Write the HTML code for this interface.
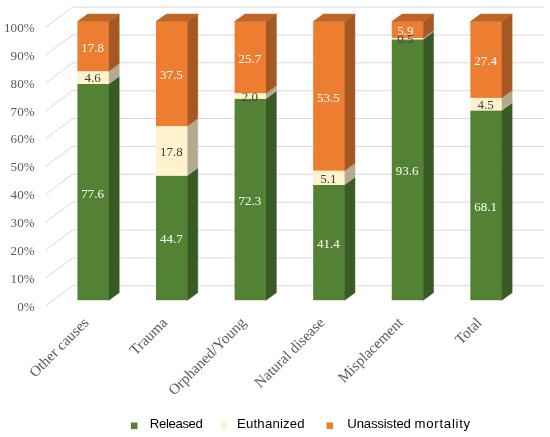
<!DOCTYPE html>
<html><head><meta charset="utf-8"><title>Chart</title><style>html,body{margin:0;padding:0;background:#fff}svg{display:block}</style></head><body>
<svg width="550" height="437" viewBox="0 0 550 437">
<rect width="550" height="437" fill="#fff"/>
<g stroke="#D9D9D9" stroke-width="1" fill="none">
<polyline points="45.50,306.00 72.50,285.80 544.00,285.80"/>
<polyline points="45.50,278.13 72.50,257.93 544.00,257.93"/>
<polyline points="45.50,250.26 72.50,230.06 544.00,230.06"/>
<polyline points="45.50,222.39 72.50,202.19 544.00,202.19"/>
<polyline points="45.50,194.52 72.50,174.32 544.00,174.32"/>
<polyline points="45.50,166.65 72.50,146.45 544.00,146.45"/>
<polyline points="45.50,138.78 72.50,118.58 544.00,118.58"/>
<polyline points="45.50,110.91 72.50,90.71 544.00,90.71"/>
<polyline points="45.50,83.04 72.50,62.84 544.00,62.84"/>
<polyline points="45.50,55.17 72.50,34.97 544.00,34.97"/>
<polyline points="45.50,27.30 72.50,7.10 544.00,7.10"/>
</g>
<g font-family="'Liberation Serif', serif" font-size="13.1" fill="#595959" text-anchor="end">
<text x="34.6" y="310.60">0%</text>
<text x="34.6" y="282.73">10%</text>
<text x="34.6" y="254.86">20%</text>
<text x="34.6" y="226.99">30%</text>
<text x="34.6" y="199.12">40%</text>
<text x="34.6" y="171.25">50%</text>
<text x="34.6" y="143.38">60%</text>
<text x="34.6" y="115.51">70%</text>
<text x="34.6" y="87.64">80%</text>
<text x="34.6" y="59.77">90%</text>
<text x="34.6" y="31.90">100%</text>
</g>
<polygon fill="#3A5A25" stroke="#3A5A25" stroke-width="0.5" stroke-linejoin="round" points="108.86,300.20 119.21,292.70 119.21,76.43 108.86,83.93"/>
<rect fill="#3A5A25" x="107.86" y="83.93" width="1.2" height="216.27"/>
<rect fill="#548235" x="77.43" y="83.93" width="31.43" height="216.27"/>
<polygon fill="#B3AA8F" stroke="#B3AA8F" stroke-width="0.5" stroke-linejoin="round" points="108.86,83.93 119.21,76.43 119.21,63.61 108.86,71.11"/>
<rect fill="#B3AA8F" x="107.86" y="71.11" width="1.2" height="12.82"/>
<rect fill="#FFF2CC" x="77.43" y="71.11" width="31.43" height="12.82"/>
<polygon fill="#A65822" stroke="#A65822" stroke-width="0.5" stroke-linejoin="round" points="108.86,71.11 119.21,63.61 119.21,14.00 108.86,21.50"/>
<rect fill="#A65822" x="107.86" y="21.50" width="1.2" height="49.61"/>
<rect fill="#ED7D31" x="77.43" y="21.50" width="31.43" height="49.61"/>
<polygon fill="#BE6427" stroke="#BE6427" stroke-width="0.5" stroke-linejoin="round" points="77.43,21.50 108.86,21.50 119.21,14.00 87.78,14.00"/>
<text font-family="'Liberation Serif', serif" font-size="13" fill="#FFFFFF" text-anchor="middle" x="92.74" y="197.56">77.6</text>
<text font-family="'Liberation Serif', serif" font-size="13" fill="#404040" text-anchor="middle" x="92.74" y="82.42">4.6</text>
<text font-family="'Liberation Serif', serif" font-size="13" fill="#FFFFFF" text-anchor="middle" x="92.74" y="51.80">17.8</text>
<text font-family="'Liberation Serif', serif" font-size="15" fill="#595959" text-anchor="end" transform="translate(89.64,323.50) rotate(-45)">Other causes</text>
<polygon fill="#3A5A25" stroke="#3A5A25" stroke-width="0.5" stroke-linejoin="round" points="187.44,300.20 197.79,292.70 197.79,168.12 187.44,175.62"/>
<rect fill="#3A5A25" x="186.44" y="175.62" width="1.2" height="124.58"/>
<rect fill="#548235" x="156.01" y="175.62" width="31.43" height="124.58"/>
<polygon fill="#B3AA8F" stroke="#B3AA8F" stroke-width="0.5" stroke-linejoin="round" points="187.44,175.62 197.79,168.12 197.79,118.51 187.44,126.01"/>
<rect fill="#B3AA8F" x="186.44" y="126.01" width="1.2" height="49.61"/>
<rect fill="#FFF2CC" x="156.01" y="126.01" width="31.43" height="49.61"/>
<polygon fill="#A65822" stroke="#A65822" stroke-width="0.5" stroke-linejoin="round" points="187.44,126.01 197.79,118.51 197.79,14.00 187.44,21.50"/>
<rect fill="#A65822" x="186.44" y="21.50" width="1.2" height="104.51"/>
<rect fill="#ED7D31" x="156.01" y="21.50" width="31.43" height="104.51"/>
<polygon fill="#BE6427" stroke="#BE6427" stroke-width="0.5" stroke-linejoin="round" points="156.01,21.50 187.44,21.50 197.79,14.00 166.36,14.00"/>
<text font-family="'Liberation Serif', serif" font-size="13" fill="#FFFFFF" text-anchor="middle" x="171.32" y="243.41">44.7</text>
<text font-family="'Liberation Serif', serif" font-size="13" fill="#404040" text-anchor="middle" x="171.32" y="155.72">17.8</text>
<text font-family="'Liberation Serif', serif" font-size="13" fill="#FFFFFF" text-anchor="middle" x="171.32" y="79.26">37.5</text>
<text font-family="'Liberation Serif', serif" font-size="15" fill="#595959" text-anchor="end" transform="translate(168.22,323.50) rotate(-45)">Trauma</text>
<polygon fill="#3A5A25" stroke="#3A5A25" stroke-width="0.5" stroke-linejoin="round" points="266.02,300.20 276.38,292.70 276.38,91.20 266.02,98.70"/>
<rect fill="#3A5A25" x="265.02" y="98.70" width="1.2" height="201.50"/>
<rect fill="#548235" x="234.59" y="98.70" width="31.43" height="201.50"/>
<polygon fill="#B3AA8F" stroke="#B3AA8F" stroke-width="0.5" stroke-linejoin="round" points="266.02,98.70 276.38,91.20 276.38,85.63 266.02,93.13"/>
<rect fill="#B3AA8F" x="265.02" y="93.13" width="1.2" height="5.57"/>
<rect fill="#FFF2CC" x="234.59" y="93.13" width="31.43" height="5.57"/>
<polygon fill="#A65822" stroke="#A65822" stroke-width="0.5" stroke-linejoin="round" points="266.02,93.13 276.38,85.63 276.38,14.00 266.02,21.50"/>
<rect fill="#A65822" x="265.02" y="21.50" width="1.2" height="71.63"/>
<rect fill="#ED7D31" x="234.59" y="21.50" width="31.43" height="71.63"/>
<polygon fill="#BE6427" stroke="#BE6427" stroke-width="0.5" stroke-linejoin="round" points="234.59,21.50 266.02,21.50 276.38,14.00 244.94,14.00"/>
<text font-family="'Liberation Serif', serif" font-size="13" fill="#FFFFFF" text-anchor="middle" x="249.91" y="204.95">72.3</text>
<text font-family="'Liberation Serif', serif" font-size="13" fill="#404040" text-anchor="middle" x="249.91" y="100.81">2.0</text>
<text font-family="'Liberation Serif', serif" font-size="13" fill="#FFFFFF" text-anchor="middle" x="249.91" y="62.81">25.7</text>
<text font-family="'Liberation Serif', serif" font-size="15" fill="#595959" text-anchor="end" transform="translate(246.81,323.50) rotate(-45)">Orphaned/Young</text>
<polygon fill="#3A5A25" stroke="#3A5A25" stroke-width="0.5" stroke-linejoin="round" points="344.61,300.20 354.96,292.70 354.96,177.32 344.61,184.82"/>
<rect fill="#3A5A25" x="343.61" y="184.82" width="1.2" height="115.38"/>
<rect fill="#548235" x="313.18" y="184.82" width="31.43" height="115.38"/>
<polygon fill="#B3AA8F" stroke="#B3AA8F" stroke-width="0.5" stroke-linejoin="round" points="344.61,184.82 354.96,177.32 354.96,163.10 344.61,170.60"/>
<rect fill="#B3AA8F" x="343.61" y="170.60" width="1.2" height="14.21"/>
<rect fill="#FFF2CC" x="313.18" y="170.60" width="31.43" height="14.21"/>
<polygon fill="#A65822" stroke="#A65822" stroke-width="0.5" stroke-linejoin="round" points="344.61,170.60 354.96,163.10 354.96,14.00 344.61,21.50"/>
<rect fill="#A65822" x="343.61" y="21.50" width="1.2" height="149.10"/>
<rect fill="#ED7D31" x="313.18" y="21.50" width="31.43" height="149.10"/>
<polygon fill="#BE6427" stroke="#BE6427" stroke-width="0.5" stroke-linejoin="round" points="313.18,21.50 344.61,21.50 354.96,14.00 323.53,14.00"/>
<text font-family="'Liberation Serif', serif" font-size="13" fill="#FFFFFF" text-anchor="middle" x="328.49" y="248.01">41.4</text>
<text font-family="'Liberation Serif', serif" font-size="13" fill="#404040" text-anchor="middle" x="328.49" y="182.61">5.1</text>
<text font-family="'Liberation Serif', serif" font-size="13" fill="#FFFFFF" text-anchor="middle" x="328.49" y="101.55">53.5</text>
<text font-family="'Liberation Serif', serif" font-size="15" fill="#595959" text-anchor="end" transform="translate(325.39,323.50) rotate(-45)">Natural disease</text>
<polygon fill="#3A5A25" stroke="#3A5A25" stroke-width="0.5" stroke-linejoin="round" points="423.19,300.20 433.54,292.70 433.54,31.84 423.19,39.34"/>
<rect fill="#3A5A25" x="422.19" y="39.34" width="1.2" height="260.86"/>
<rect fill="#548235" x="391.76" y="39.34" width="31.43" height="260.86"/>
<polygon fill="#B3AA8F" stroke="#B3AA8F" stroke-width="0.5" stroke-linejoin="round" points="423.19,39.34 433.54,31.84 433.54,30.44 423.19,37.94"/>
<rect fill="#B3AA8F" x="422.19" y="37.94" width="1.2" height="1.39"/>
<rect fill="#FFF2CC" x="391.76" y="37.94" width="31.43" height="1.39"/>
<polygon fill="#A65822" stroke="#A65822" stroke-width="0.5" stroke-linejoin="round" points="423.19,37.94 433.54,30.44 433.54,14.00 423.19,21.50"/>
<rect fill="#A65822" x="422.19" y="21.50" width="1.2" height="16.44"/>
<rect fill="#ED7D31" x="391.76" y="21.50" width="31.43" height="16.44"/>
<polygon fill="#BE6427" stroke="#BE6427" stroke-width="0.5" stroke-linejoin="round" points="391.76,21.50 423.19,21.50 433.54,14.00 402.11,14.00"/>
<text font-family="'Liberation Serif', serif" font-size="13" fill="#FFFFFF" text-anchor="middle" x="407.08" y="175.27">93.6</text>
<text font-family="'Liberation Serif', serif" font-size="13" fill="#404040" text-anchor="middle" x="405.48" y="42.94">0.5</text>
<text font-family="'Liberation Serif', serif" font-size="13" fill="#FFFFFF" text-anchor="middle" x="405.48" y="34.62">5.9</text>
<text font-family="'Liberation Serif', serif" font-size="15" fill="#595959" text-anchor="end" transform="translate(403.98,323.50) rotate(-45)">Misplacement</text>
<polygon fill="#3A5A25" stroke="#3A5A25" stroke-width="0.5" stroke-linejoin="round" points="501.77,300.20 512.12,292.70 512.12,102.91 501.77,110.41"/>
<rect fill="#3A5A25" x="500.77" y="110.41" width="1.2" height="189.79"/>
<rect fill="#548235" x="470.34" y="110.41" width="31.43" height="189.79"/>
<polygon fill="#B3AA8F" stroke="#B3AA8F" stroke-width="0.5" stroke-linejoin="round" points="501.77,110.41 512.12,102.91 512.12,90.36 501.77,97.86"/>
<rect fill="#B3AA8F" x="500.77" y="97.86" width="1.2" height="12.54"/>
<rect fill="#FFF2CC" x="470.34" y="97.86" width="31.43" height="12.54"/>
<polygon fill="#A65822" stroke="#A65822" stroke-width="0.5" stroke-linejoin="round" points="501.77,97.86 512.12,90.36 512.12,14.00 501.77,21.50"/>
<rect fill="#A65822" x="500.77" y="21.50" width="1.2" height="76.36"/>
<rect fill="#ED7D31" x="470.34" y="21.50" width="31.43" height="76.36"/>
<polygon fill="#BE6427" stroke="#BE6427" stroke-width="0.5" stroke-linejoin="round" points="470.34,21.50 501.77,21.50 512.12,14.00 480.69,14.00"/>
<text font-family="'Liberation Serif', serif" font-size="13" fill="#FFFFFF" text-anchor="middle" x="485.66" y="210.80">68.1</text>
<text font-family="'Liberation Serif', serif" font-size="13" fill="#404040" text-anchor="middle" x="485.66" y="109.03">4.5</text>
<text font-family="'Liberation Serif', serif" font-size="13" fill="#FFFFFF" text-anchor="middle" x="485.66" y="65.18">27.4</text>
<text font-family="'Liberation Serif', serif" font-size="15" fill="#595959" text-anchor="end" transform="translate(482.56,323.50) rotate(-45)">Total</text>
<rect x="130.9" y="422.5" width="6.6" height="6.6" fill="#548235"/>
<text font-family="'Liberation Sans', sans-serif" font-size="13.2" fill="#000" y="428.4"><tspan x="149.8" textLength="53.1" lengthAdjust="spacing">Released</tspan></text>
<rect x="220.7" y="422.5" width="6.6" height="6.6" fill="#FFF2CC"/>
<text font-family="'Liberation Sans', sans-serif" font-size="13.2" fill="#000" y="428.4"><tspan x="237.0" textLength="67.7" lengthAdjust="spacing">Euthanized</tspan></text>
<rect x="326.5" y="422.5" width="6.6" height="6.6" fill="#ED7D31"/>
<text font-family="'Liberation Sans', sans-serif" font-size="13.2" fill="#000" y="428.4"><tspan x="347.3" textLength="63.6" lengthAdjust="spacing">Unassisted</tspan> <tspan x="414.6" textLength="55.6" lengthAdjust="spacing">mortality</tspan></text>
</svg>
</body></html>
